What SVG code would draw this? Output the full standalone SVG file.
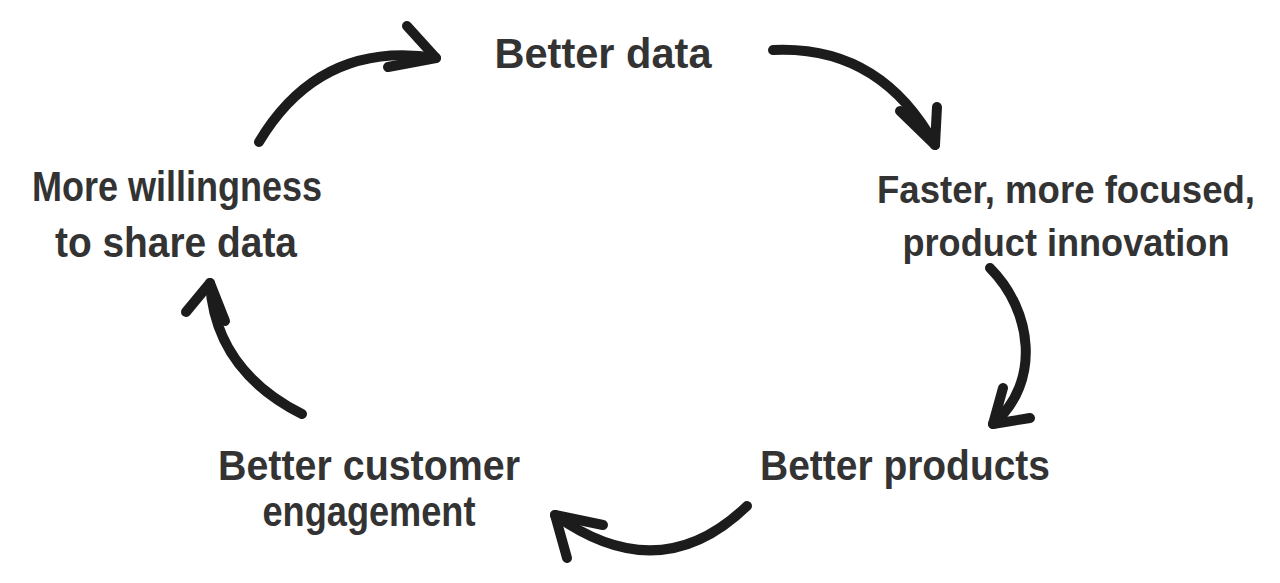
<svg xmlns="http://www.w3.org/2000/svg" width="1280" height="583" viewBox="0 0 1280 583">
<style>
.lbl{font-family:"Liberation Sans",Arial,sans-serif;font-weight:bold;font-size:42px;fill:#333;text-anchor:middle}
.sm{font-size:39px}
.arr{fill:none;stroke:#1c1c1c;stroke-width:10;stroke-linecap:round;stroke-linejoin:round}
</style>
<rect width="1280" height="583" fill="#fff"/>
<g id="connectors">
<g id="a1"><path class="arr" d="M259,142 Q320,40 436,58"/><path class="arr" d="M407,26 L436,58 L388,67"/></g>
<g id="a2"><path class="arr" d="M773,50 Q880,45 935,145"/><path class="arr" d="M900,111 L935,145 L937,107"/></g>
<g id="a3"><path class="arr" d="M990,268 C1032,310 1042,382 993,424"/><path class="arr" d="M1003,388 L993,424 L1030,418"/></g>
<g id="a4"><path class="arr" d="M747,506 Q660,590 555,515"/><path class="arr" d="M603,525 L555,515 L567,558"/></g>
<g id="a5"><path class="arr" d="M302,414 Q215,370 210,283"/><path class="arr" d="M186,312 L210,283 L225,321"/></g>
</g>
<g id="n-better-data"><text class="lbl" x="603" y="68" textLength="217" lengthAdjust="spacingAndGlyphs">Better data</text></g>
<g id="n-faster"><text class="lbl sm" x="1066" y="203" textLength="378" lengthAdjust="spacingAndGlyphs">Faster, more focused,</text><text class="lbl sm" x="1066" y="256" textLength="327" lengthAdjust="spacingAndGlyphs">product innovation</text></g>
<g id="n-better-products"><text class="lbl" x="905" y="480" textLength="290" lengthAdjust="spacingAndGlyphs">Better products</text></g>
<g id="n-engagement"><text class="lbl" x="369" y="480" textLength="302" lengthAdjust="spacingAndGlyphs">Better customer</text><text class="lbl" x="369" y="526" textLength="213" lengthAdjust="spacingAndGlyphs">engagement</text></g>
<g id="n-willingness"><text class="lbl" x="177" y="201" textLength="290" lengthAdjust="spacingAndGlyphs">More willingness</text><text class="lbl" x="176" y="257" textLength="242" lengthAdjust="spacingAndGlyphs">to share data</text></g>
</svg>
